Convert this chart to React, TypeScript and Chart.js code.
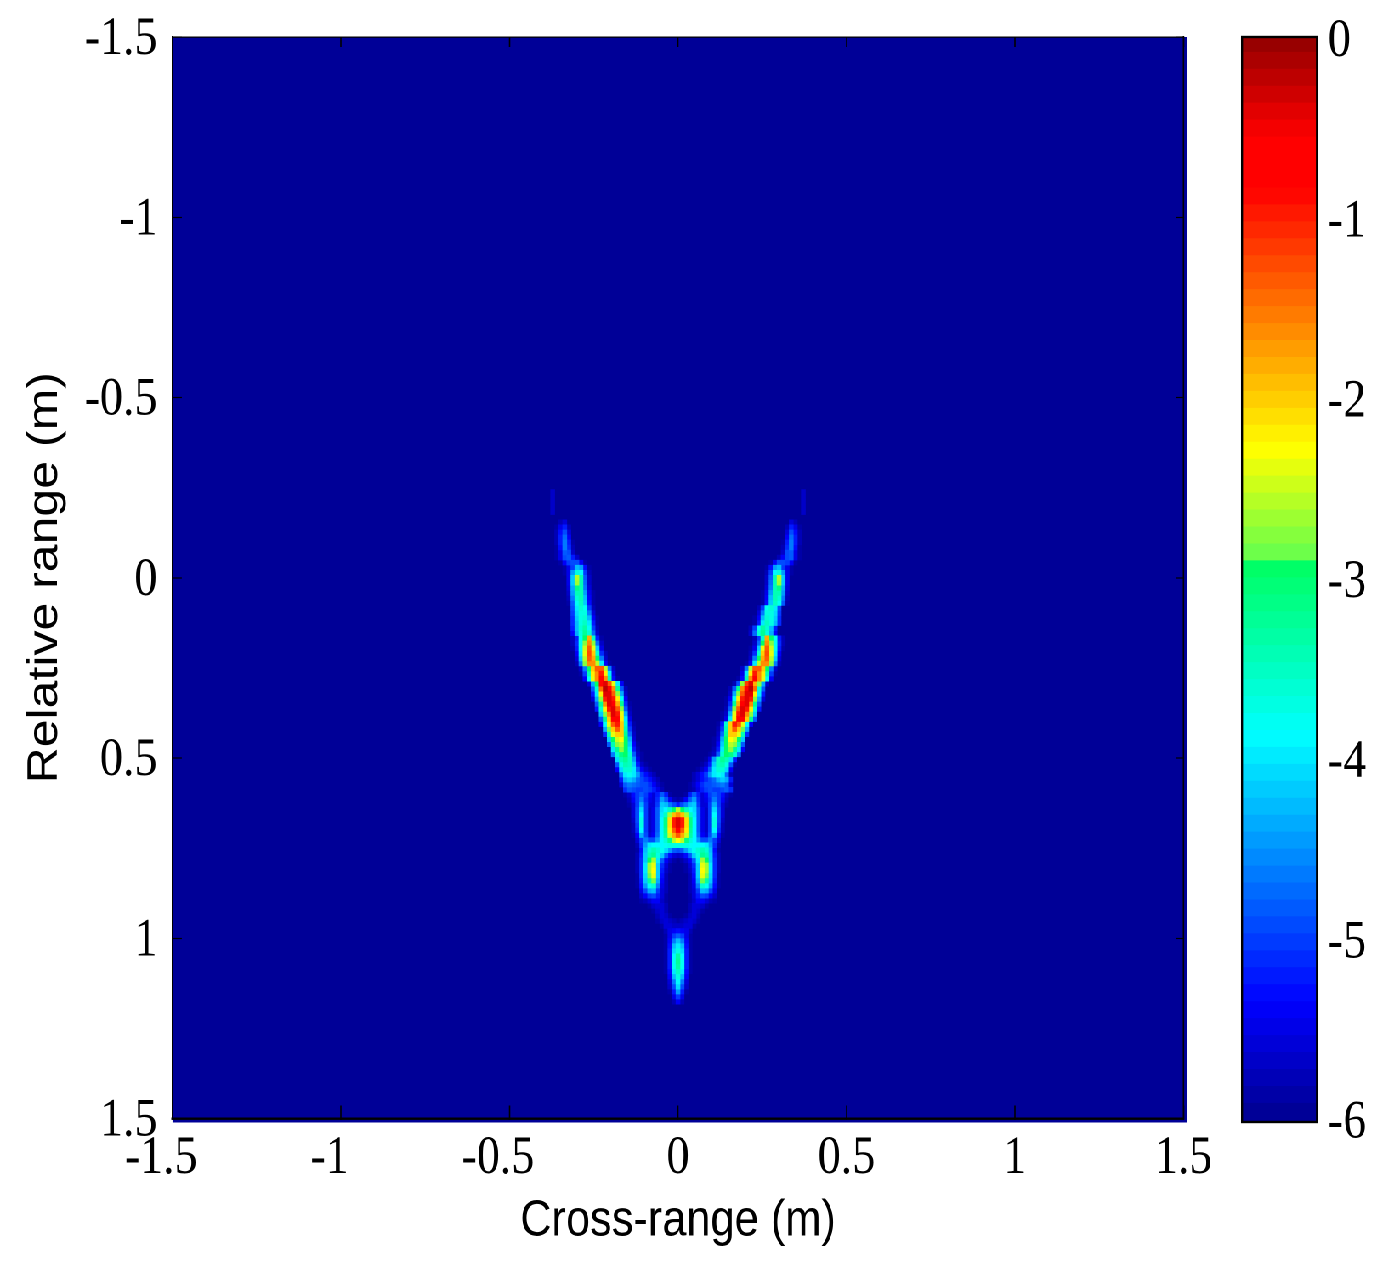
import React, { useEffect, useRef } from "react";
import { Chart, registerables } from "chart.js";

Chart.register(...registerables);

// Axis ticks
const axisTicks = [-1.5, -1, -0.5, 0, 0.5, 1, 1.5];
const colorbarTicks = [-6, -5, -4, -3, -2, -1, 0];
const xTitle = "Cross-range (m)";
const yTitle = "Relative range (m)";

// Grid of the image (metres per cell)
const stepCross = 0.012;
const stepRange = 0.014;

// Each row: [range index, first cross index, levels...]; level = tenths above -6
const faintRows = [
  [-17, -31, 3], [-16, -31, 3], [-15, -31, 3], [-14, -31, 3], [-13, -31, 3],
  [-17, 31, 3], [-16, 31, 3], [-15, 31, 3], [-14, 31, 3], [-13, 31, 3],
];

const leftArmRows = [
  [-11, -29, 2, 4], [-10, -30, 1, 5, 8, 2], [-9, -30, 2, 7, 11, 4], [-8, -30, 2, 8, 13, 6],
  [-7, -30, 2, 8, 14, 8, 1], [-6, -30, 1, 7, 14, 9, 2], [-5, -30, 1, 5, 12, 11, 3], [-4, -30, 1, 5, 11, 12, 8, 3],
  [-3, -29, 1, 6, 10, 11, 11, 6, 1], [-2, -28, 1, 5, 10, 17, 15, 7, 1], [-1, -28, 1, 5, 15, 23, 21, 10, 2],
  [0, -27, 5, 18, 34, 26, 12, 3], [1, -27, 5, 18, 33, 26, 13, 3], [2, -27, 4, 16, 29, 26, 14, 4],
  [3, -27, 3, 15, 26, 26, 15, 5, 1], [4, -27, 2, 14, 24, 26, 17, 6, 1], [5, -27, 1, 12, 22, 25, 18, 7, 1],
  [6, -26, 11, 20, 24, 22, 10, 2], [7, -26, 10, 19, 23, 23, 14, 4], [8, -26, 9, 18, 23, 24, 17, 6, 1],
  [9, -26, 9, 17, 23, 25, 20, 8, 1], [10, -26, 8, 17, 24, 27, 22, 10, 2], [11, -26, 6, 16, 23, 28, 24, 13, 3],
  [12, -26, 2, 8, 22, 30, 42, 25, 8, 1], [13, -26, 2, 9, 22, 32, 44, 32, 13, 3],
  [14, -26, 1, 8, 22, 35, 46, 36, 18, 5], [15, -25, 6, 20, 36, 47, 40, 24, 9, 2],
  [16, -25, 4, 18, 34, 46, 42, 30, 14, 3], [17, -25, 2, 14, 32, 44, 44, 34, 20, 6, 1],
  [18, -24, 3, 14, 30, 40, 46, 46, 34, 14, 3], [19, -24, 1, 10, 26, 38, 44, 50, 38, 20, 5],
  [20, -23, 6, 22, 36, 44, 54, 44, 26, 7, 1], [21, -22, 4, 16, 30, 52, 56, 46, 36, 20, 6],
  [22, -21, 12, 24, 45, 58, 52, 44, 28, 12, 2], [23, -21, 8, 20, 38, 56, 56, 46, 32, 16, 3],
  [24, -21, 4, 16, 32, 50, 56, 50, 38, 22, 6], [25, -20, 12, 28, 44, 56, 54, 42, 28, 9, 1],
  [26, -20, 8, 24, 38, 50, 56, 46, 32, 12, 2], [27, -19, 18, 32, 44, 56, 50, 36, 16, 3],
  [28, -19, 12, 28, 40, 54, 52, 38, 20, 5], [29, -19, 6, 22, 36, 46, 50, 40, 24, 8, 1],
  [30, -18, 16, 31, 40, 46, 40, 26, 10, 2], [31, -18, 9, 26, 36, 40, 40, 28, 13, 3],
  [32, -17, 18, 30, 35, 37, 30, 16, 4], [33, -17, 12, 26, 32, 34, 30, 18, 6, 1],
  [34, -16, 20, 28, 32, 30, 20, 8, 2], [35, -16, 14, 24, 29, 30, 24, 12, 3, 1],
  [36, -15, 19, 26, 28, 25, 15, 5, 1], [37, -15, 12, 23, 26, 25, 18, 8, 3, 1],
  [38, -15, 6, 19, 24, 24, 20, 12, 6, 3, 1], [39, -14, 13, 20, 22, 20, 15, 10, 7, 4, 2],
  [40, -14, 8, 16, 18, 16, 13, 11, 9, 7, 4, 2], [41, -14, 4, 12, 14, 13, 12, 11, 11, 9, 6, 3, 1],
  [42, -13, 9, 12, 11, 10, 10, 11, 10, 8, 5, 2],
];

const rightArmRows = [
  [-11, 28, 4, 2], [-10, 27, 2, 8, 5, 1], [-9, 27, 4, 11, 7, 2], [-8, 27, 6, 13, 8, 2],
  [-7, 26, 1, 8, 14, 8, 2], [-6, 26, 2, 9, 14, 7, 1], [-5, 26, 3, 11, 12, 5, 1], [-4, 25, 2, 6, 11, 12, 5, 1],
  [-3, 23, 1, 6, 11, 11, 10, 6, 1], [-2, 22, 1, 7, 15, 17, 10, 5, 1], [-1, 22, 2, 10, 21, 23, 15, 5, 1],
  [0, 22, 3, 12, 26, 34, 18, 5], [1, 22, 3, 13, 26, 33, 18, 5], [2, 22, 4, 14, 26, 29, 16, 4],
  [3, 21, 1, 5, 15, 26, 26, 15, 3], [4, 21, 1, 6, 17, 26, 24, 14, 2], [5, 21, 1, 7, 18, 25, 22, 12, 1],
  [6, 20, 2, 10, 22, 24, 20, 11], [7, 20, 4, 14, 23, 23, 19, 10], [8, 19, 1, 6, 17, 24, 23, 18, 9],
  [9, 19, 1, 8, 20, 25, 23, 17, 9], [10, 18, 2, 10, 22, 27, 24, 17, 8], [11, 18, 3, 13, 24, 28, 23, 16, 6],
  [12, 19, 2, 10, 24, 42, 30, 22, 8, 2], [13, 19, 3, 13, 30, 44, 32, 22, 9, 2],
  [14, 18, 1, 5, 18, 36, 46, 35, 22, 8, 1], [15, 18, 2, 9, 24, 40, 47, 36, 20, 6],
  [16, 18, 3, 14, 30, 42, 46, 34, 18, 4], [17, 17, 1, 6, 20, 34, 44, 44, 32, 14, 2],
  [18, 16, 3, 14, 34, 46, 46, 40, 30, 14, 3], [19, 16, 5, 20, 38, 50, 44, 38, 26, 10, 1],
  [20, 15, 1, 7, 26, 44, 54, 44, 36, 22, 6], [21, 14, 2, 11, 32, 48, 56, 42, 32, 16, 3],
  [22, 13, 2, 12, 28, 44, 52, 58, 45, 24, 12], [23, 13, 3, 16, 32, 46, 56, 56, 38, 20, 8],
  [24, 12, 1, 6, 22, 38, 50, 56, 50, 32, 16, 4], [25, 12, 1, 9, 28, 42, 54, 56, 44, 28, 12],
  [26, 12, 2, 12, 32, 46, 56, 50, 38, 24, 8], [27, 11, 1, 3, 16, 36, 50, 56, 44, 32, 18],
  [28, 11, 1, 5, 20, 38, 52, 54, 40, 28, 12], [29, 10, 1, 8, 24, 40, 50, 46, 36, 22, 6],
  [30, 10, 2, 10, 26, 40, 46, 40, 31, 16], [31, 10, 3, 13, 28, 40, 40, 36, 26, 9],
  [32, 9, 1, 4, 16, 30, 37, 35, 30, 18], [33, 9, 1, 6, 18, 30, 34, 32, 26, 12],
  [34, 9, 2, 8, 20, 30, 32, 28, 20, 6], [35, 8, 1, 3, 12, 24, 30, 29, 24, 14],
  [36, 7, 1, 5, 15, 25, 28, 26, 19, 8], [37, 6, 1, 3, 8, 18, 25, 26, 23, 12, 1],
  [38, 5, 1, 3, 6, 12, 20, 24, 24, 19, 6], [39, 4, 2, 4, 7, 10, 15, 20, 22, 20, 13, 2],
  [40, 4, 2, 4, 7, 9, 11, 13, 16, 18, 16, 8], [41, 3, 1, 3, 6, 9, 11, 11, 12, 13, 14, 12, 4],
  [42, 3, 1, 2, 5, 8, 10, 11, 10, 10, 11, 12, 9],
];

// Central lobes, symmetric about cross-range 0: [range index, level at |i| = 0, 1, 2...]
const centralRows = [
  [43, 0, 0, 1, 8, 12, 8, 4, 6, 10, 12, 10, 7, 3, 1],
  [44, 1, 2, 6, 12, 15, 9, 4, 5, 9, 14, 10, 6, 2],
  [45, 8, 11, 14, 17, 18, 10, 4, 4, 10, 16, 10, 4, 1],
  [46, 34, 30, 25, 21, 19, 12, 5, 3, 10, 19, 11, 4],
  [47, 44, 41, 33, 25, 20, 12, 5, 3, 10, 21, 11, 4],
  [48, 56, 50, 39, 29, 21, 12, 5, 3, 10, 23, 11, 3],
  [49, 56, 50, 39, 29, 21, 12, 5, 3, 10, 23, 10, 2],
  [50, 52, 46, 38, 28, 21, 12, 5, 3, 10, 21, 9, 2],
  [51, 46, 42, 35, 27, 21, 13, 6, 4, 11, 16, 6, 1],
  [52, 37, 34, 29, 24, 21, 15, 11, 11, 14, 10, 4],
  [53, 23, 23, 23, 22, 21, 21, 21, 20, 15, 9, 2],
  [54, 11, 12, 15, 19, 22, 24, 26, 24, 17, 7, 1],
  [55, 3, 4, 7, 12, 18, 23, 28, 26, 18, 8, 2],
  [56, 0, 1, 3, 6, 12, 20, 33, 30, 18, 9, 2],
  [57, 0, 0, 1, 4, 9, 18, 36, 33, 20, 9, 2],
  [58, 0, 0, 1, 3, 8, 18, 37, 33, 20, 9, 2],
  [59, 0, 0, 0, 2, 7, 18, 36, 31, 19, 9, 1],
  [60, 0, 0, 0, 2, 6, 16, 31, 27, 18, 8, 1],
  [61, 0, 0, 0, 2, 5, 14, 24, 22, 15, 7, 1],
  [62, 0, 0, 0, 2, 4, 10, 17, 16, 11, 5],
  [63, 0, 0, 0, 1, 4, 8, 11, 10, 6, 3],
  [64, 0, 0, 0, 1, 3, 6, 6, 4, 2, 1],
  [65, 0, 0, 0, 2, 4, 4, 3, 1],
  [66, 0, 0, 0, 2, 4, 3, 1],
  [67, 0, 0, 1, 3, 4, 2],
  [68, 1, 2, 3, 4, 3, 1],
  [69, 3, 3, 4, 4, 1],
  [70, 7, 6, 5, 2],
  [71, 12, 10, 5, 1],
  [72, 17, 14, 6, 1],
  [73, 20, 17, 7, 1],
  [74, 23, 19, 8, 1],
  [75, 27, 21, 8, 1],
  [76, 28, 22, 8, 1],
  [77, 27, 22, 8, 1],
  [78, 25, 20, 7, 1],
  [79, 23, 17, 6],
  [80, 21, 14, 4],
  [81, 19, 11, 3],
  [82, 15, 8, 1],
  [83, 10, 5],
  [84, 6, 2],
];

// Colormap of the reference: [value, r, g, b]
const colorStops = [
  [-6, 0, 0, 143],
  [-5.35, 0, 0, 255],
  [-3.87, 0, 255, 255],
  [-2.91, 0, 255, 96],
  [-2.909, 96, 255, 80],
  [-2.29, 255, 255, 0],
  [-0.85, 255, 0, 0],
  [-0.57, 255, 0, 0],
  [0, 143, 0, 0],
];
const LEVELS = 64;

function bandColor(n: number) {
  const v = -6 + ((n + 0.5) * 6) / LEVELS;
  for (let k = 1; k < colorStops.length; k++) {
    const a = colorStops[k - 1];
    const b = colorStops[k];
    if (v <= b[0]) {
      const t = (v - a[0]) / (b[0] - a[0]);
      const c = [1, 2, 3].map((m) => Math.round(a[m] + (b[m] - a[m]) * t));
      return `rgb(${c[0]},${c[1]},${c[2]})`;
    }
  }
  return "rgb(143,0,0)";
}
const bandOf = (v: number) => Math.max(0, Math.min(LEVELS - 1, Math.floor(((v + 6) / 6) * LEVELS)));

function buildCells() {
  const cells: { x: number; y: number; v: number }[] = [];
  const add = (i: number, j: number, level: number) => {
    if (level > 0) cells.push({ x: i * stepCross, y: j * stepRange, v: level / 10 - 6 });
  };
  for (const rows of [faintRows, leftArmRows, rightArmRows]) {
    for (const [j, first, ...levels] of rows) levels.forEach((l, k) => add(first + k, j, l));
  }
  for (const [j, ...levels] of centralRows) {
    levels.forEach((l, k) => {
      add(k, j, l);
      if (k > 0) add(-k, j, l);
    });
  }
  return cells.sort((a, b) => a.v - b.v);
}

const SQUEEZE = 0.85;
const W = 1383 / SQUEEZE;
const H = 1264;
const sx = (px: number) => px / SQUEEZE;
const SERIF = "'Liberation Serif', serif";
const SANS = "'Liberation Sans', sans-serif";
const tickFont = { family: SERIF, size: 54 };
const NBSP = "\u00A0";

const imageBackground = {
  id: "imageBackground",
  beforeDraw(chart: any) {
    const { ctx, chartArea: a } = chart;
    ctx.save();
    ctx.fillStyle = bandColor(0);
    ctx.fillRect(a.left, a.top, a.right - a.left + sx(3.5), a.bottom - a.top + 4);
    ctx.restore();
  },
};

const colorbarFrame = {
  id: "colorbarFrame",
  afterDraw(chart: any) {
    const { ctx, chartArea: a } = chart;
    ctx.save();
    ctx.strokeStyle = "#000";
    ctx.lineWidth = 2.4;
    ctx.strokeRect(a.left, a.top, a.right - a.left, a.bottom - a.top);
    ctx.restore();
  },
};

function fixedSize(prop: "width" | "height", value: number) {
  return (scale: any) => {
    scale[prop] = value;
    scale.paddingTop = 0;
    scale.paddingBottom = 0;
    scale.paddingLeft = 0;
    scale.paddingRight = 0;
  };
}

export default function App() {
  const mainRef = useRef<HTMLCanvasElement>(null);
  const barRef = useRef<HTMLCanvasElement>(null);

  useEffect(() => {
    const left = sx(172.5);
    const right = sx(1183.5);
    const top = 37;
    const bottom = 1118.5;
    const setTicks = (scale: any) => {
      scale.ticks = axisTicks.map((value) => ({ value }));
    };
    const cells = buildCells();
    const main = new Chart(mainRef.current as HTMLCanvasElement, {
      type: "scatter",
      plugins: [imageBackground],
      data: {
        datasets: [
          {
            label: "Image",
            data: cells,
            showLine: false,
            pointStyle: "rect",
            pointRadius: 3.9,
            pointBorderWidth: 0,
            pointBackgroundColor: cells.map((c) => bandColor(bandOf(c.v))),
          },
        ],
      },
      options: {
        responsive: false,
        devicePixelRatio: 2,
        animation: false,
        events: [],
        layout: { padding: 0 },
        plugins: { legend: { display: false }, tooltip: { enabled: false } },
        scales: {
          x: {
            type: "linear",
            position: "bottom",
            min: -1.5,
            max: 1.5,
            afterBuildTicks: setTicks,
            afterFit: fixedSize("height", H - bottom),
            border: { color: "#000", width: 2.4 },
            grid: { drawOnChartArea: false, color: "#000", tickLength: -13, tickWidth: 1.6 },
            ticks: {
              color: "#000",
              font: tickFont,
              padding: 21,
              maxRotation: 0,
              autoSkip: false,
              callback: (v: any) => (Number(v) < 0 ? `${v}${NBSP}${NBSP}` : `${v}`),
            },
            title: {
              display: true,
              text: xTitle,
              color: "#000",
              font: { family: SANS, size: 51 },
              padding: { top: 0, bottom: 12 },
            },
          },
          x2: {
            type: "linear",
            position: "top",
            min: -1.5,
            max: 1.5,
            afterBuildTicks: setTicks,
            afterFit: fixedSize("height", top),
            border: { color: "#000", width: 1.2 },
            grid: { drawOnChartArea: false, color: "#000", tickLength: -10, tickWidth: 1.6 },
            ticks: { display: false },
          },
          y: {
            type: "linear",
            position: "left",
            reverse: true,
            min: -1.5,
            max: 1.5,
            afterBuildTicks: setTicks,
            afterFit: fixedSize("width", left),
            border: { color: "#000", width: 1.6 },
            grid: { drawOnChartArea: false, color: "#000", tickLength: -11, tickWidth: 1.2 },
            ticks: {
              color: "#000",
              font: tickFont,
              padding: 29,
              labelOffset: 3,
              autoSkip: false,
              callback: (v: any) => `${v}`,
            },
            title: {
              display: true,
              text: yTitle,
              color: "#000",
              font: { family: SANS, size: 50 },
              padding: { top: 23, bottom: 0 },
            },
          },
          y2: {
            type: "linear",
            position: "right",
            reverse: true,
            min: -1.5,
            max: 1.5,
            afterBuildTicks: setTicks,
            afterFit: fixedSize("width", W - right),
            border: { color: "#000", width: 1.6 },
            grid: { drawOnChartArea: false, color: "#000", tickLength: -9, tickWidth: 1.2 },
            ticks: { display: false },
          },
        },
      },
    } as any);

    const barOrigin = sx(1224);
    const barBottomValue = -(1122 - 37) / 180.25;
    const setBarTicks = (scale: any) => {
      scale.ticks = colorbarTicks.map((value) => ({ value }));
    };
    const bands = Array.from({ length: LEVELS }, (_, n) => n);
    const bandEdge = (n: number) => barBottomValue - (n * barBottomValue) / LEVELS;
    const bar = new Chart(barRef.current as HTMLCanvasElement, {
      type: "bar",
      plugins: [colorbarFrame],
      data: {
        labels: ["level"],
        datasets: bands.map((n) => ({
          label: `band ${n}`,
          data: [[bandEdge(n), Math.min(0, bandEdge(n + 1) + 0.01)]],
          backgroundColor: bandColor(n),
          borderWidth: 0,
          grouped: false,
          barPercentage: 1,
          categoryPercentage: 1,
          yAxisID: "y",
        })),
      },
      options: {
        responsive: false,
        devicePixelRatio: 2,
        animation: false,
        events: [],
        layout: { padding: { top: 37, bottom: 1264 - 1122, left: 0, right: 0 } },
        plugins: { legend: { display: false }, tooltip: { enabled: false } },
        scales: {
          x: { display: false },
          y: {
            type: "linear",
            position: "left",
            min: barBottomValue,
            max: 0,
            afterBuildTicks: setBarTicks,
            afterFit: fixedSize("width", sx(1242) - barOrigin),
            border: { display: false },
            grid: { drawOnChartArea: false, color: "#000", tickLength: -9.5, tickWidth: 1.4 },
            ticks: { display: false },
          },
          y2: {
            type: "linear",
            position: "right",
            min: barBottomValue,
            max: 0,
            afterBuildTicks: setBarTicks,
            afterFit: fixedSize("width", W - sx(1317)),
            border: { display: false },
            grid: { drawOnChartArea: false, color: "#000", tickLength: -9.5, tickWidth: 1.4 },
            ticks: {
              color: "#000",
              font: tickFont,
              padding: 22.4,
              labelOffset: 5,
              autoSkip: false,
              callback: (v: any) => `${v}`,
            },
          },
        },
      },
    } as any);

    return () => {
      main.destroy();
      bar.destroy();
    };
  }, []);

  const W1 = Math.round(W);
  const barLeft = sx(1224);
  return (
    <div
      style={{
        position: "absolute",
        left: 0,
        top: 0,
        width: W1,
        height: H,
        transform: `scale(${SQUEEZE}, 1)`,
        transformOrigin: "0 0",
        background: "#fff",
      }}
    >
      <canvas ref={mainRef} width={W} height={H} style={{ position: "absolute", left: 0, top: 0 }} />
      <canvas
        ref={barRef}
        width={W - barLeft}
        height={H}
        style={{ position: "absolute", left: barLeft, top: 0 }}
      />
    </div>
  );
}
